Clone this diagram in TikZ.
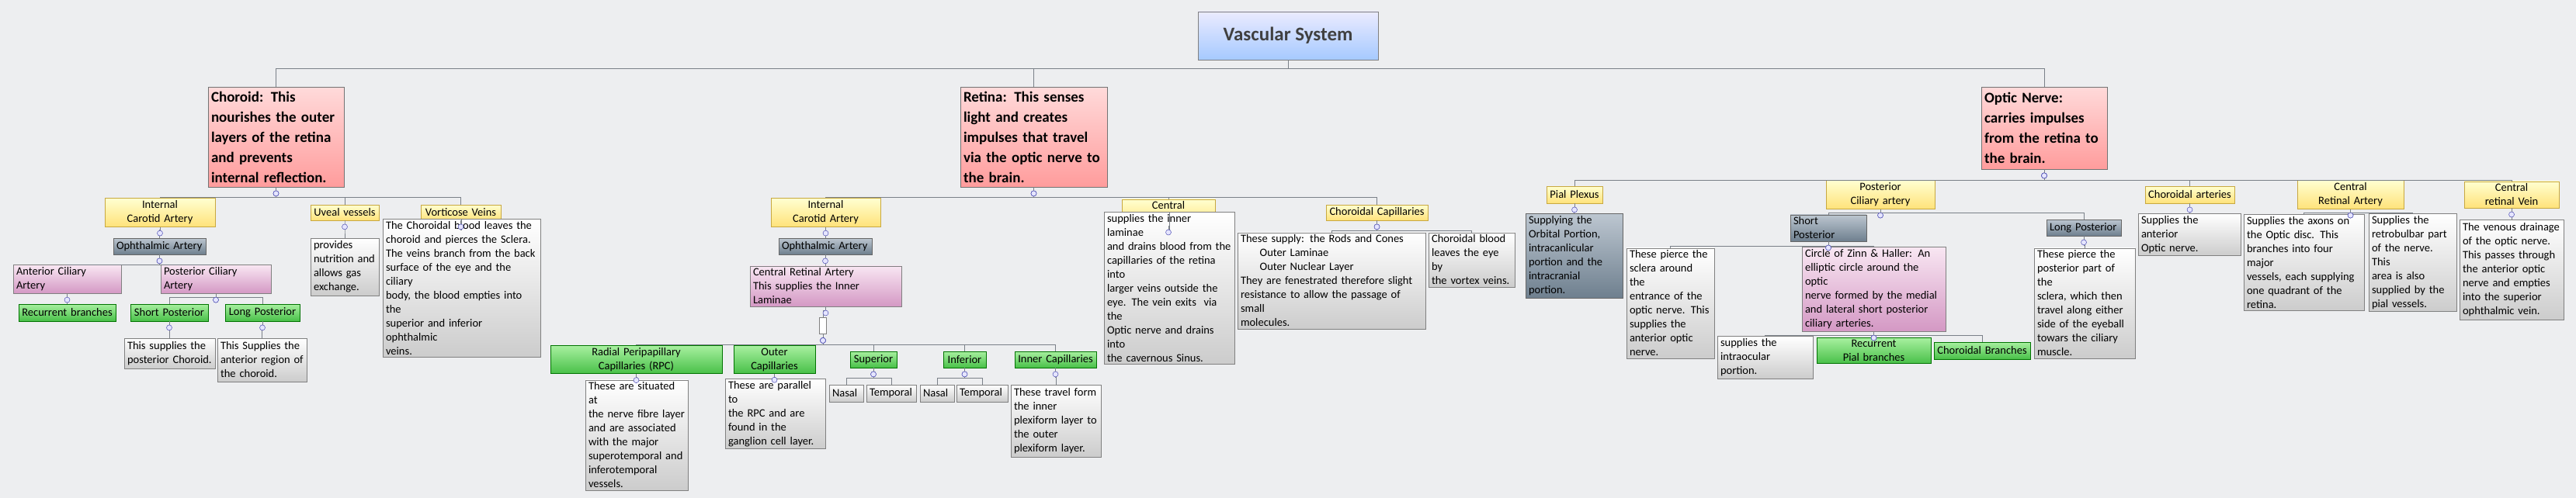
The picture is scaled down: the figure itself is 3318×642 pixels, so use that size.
\documentclass[tikz,border=0pt]{standalone}
\usepackage{fontspec}
\setmainfont{Carlito}
\hyphenpenalty=10000\relax
\exhyphenpenalty=10000\relax
\definecolor{bg}{HTML}{EDEEF0}
\definecolor{ln}{HTML}{7A8088}
\definecolor{slA}{HTML}{BCC6D0}
\definecolor{slB}{HTML}{6E7F8E}
\definecolor{pkA}{HTML}{F8E6F2}
\definecolor{pkB}{HTML}{D498C4}
\definecolor{ywA}{HTML}{FFFFD0}
\definecolor{ywB}{HTML}{FFE27A}
\definecolor{ywD}{HTML}{C8A840}
\definecolor{gnA}{HTML}{A8F0A0}
\definecolor{gnB}{HTML}{48C048}
\definecolor{rdA}{HTML}{FFDADA}
\definecolor{rdB}{HTML}{FF9C9C}
\tikzset{
 every node/.style={inner sep=3pt,font=\fontsize{14.5}{18}\selectfont},
 gen/.style={draw=ln!80,line width=0.8pt},
 yel/.style={gen,draw=ywD,top color=ywA,bottom color=ywB,align=center},
 grn/.style={gen,draw=green!45!black,top color=gnA,bottom color=gnB,align=center},
 gry/.style={gen,draw=gray,top color=white,bottom color=gray!40,align=left},
 slt/.style={gen,draw=gray!80!black,top color=slA,bottom color=slB,align=left},
 pnk/.style={gen,draw=gray,top color=pkA,bottom color=pkB,align=left},
 red/.style={gen,draw=gray!90!black,top color=rdA,bottom color=rdB,align=left,font=\fontsize{19}{26}\selectfont\bfseries},
 wht/.style={gen,draw=gray,fill=white},
}
\newcommand{\myconn}[3]{\draw[ln,line width=0.7pt] (#1.south) -- (#1.south |- 0,#2) -| (#3.north);
 \filldraw[draw=blue!40!gray,fill=blue!10,line width=0.5pt] ([yshift=-8pt]#1.south) circle (3.5pt);}
\newcommand{\bt}[8][]{\node[#2,#1,minimum width=#5pt-#3pt,minimum height=#6pt-#4pt,text width=#5pt-#3pt-8pt] (#7) at ({(#3+#5)/2},{(#4+#6)/2}) {#8};}
\begin{document}
\begin{tikzpicture}[x=1pt,y=-1pt]
\fill[bg] (0,0) rectangle (3318,642);
\useasboundingbox (0,0) rectangle (3318,642);
\node[gen,draw=gray,top color=blue!8,bottom color=cyan!40!blue!35,minimum width=232pt,minimum height=62pt,font=\fontsize{25}{30}\selectfont\bfseries,text=black!75] (title) at (1659,46) {Vascular System};
\bt{red}{268}{112}{443}{241}{chor}{Choroid: This\\nourishes the outer\\layers of the retina\\and prevents\\internal reflection.}
\bt{red}{1237}{112}{1426}{241}{ret}{Retina: This senses\\light and creates\\impulses that travel\\via the optic nerve to\\the brain.}
\bt{red}{2552}{112}{2714}{218}{opt}{Optic Nerve:\\carries impulses\\from the retina to\\the brain.}
% choroid
\bt{yel}{135}{264}{277}{284}{ica1}{Internal Carotid Artery}
\bt{yel}{400}{264}{488}{284}{uv}{Uveal vessels}
\bt{yel}{542}{264}{645}{284}{vv}{Vorticose Veins}
\bt{slt}{146}{307}{265}{328}{oph1}{Ophthalmic Artery}
\bt{pnk}{17}{350}{156}{370}{aca}{Anterior Ciliary Artery}
\bt{pnk}{207}{350}{349}{370}{pca}{Posterior Ciliary Artery}
\bt{grn}{24}{392}{149}{414}{rec}{Recurrent branches}
\bt{grn}{168}{392}{268}{414}{sp1}{Short Posterior}
\bt{grn}{290}{392}{386}{414}{lp1}{Long Posterior}
\bt{gry}{160}{436}{277}{475}{sp1t}{This supplies the\\posterior Choroid.}
\bt{gry}{280}{436}{395}{492}{lp1t}{This Supplies the\\anterior region of\\the choroid.}
\bt{gry}{400}{307}{488}{381}{uvt}{provides\\nutrition and\\allows gas\\exchange.}
\bt{gry}{493}{307}{696}{436}{vvt}{The Choroidal blood leaves the\\choroid and pierces the Sclera.\\The veins branch from the back\\surface of the eye and the ciliary\\body, the blood empties into the\\superior and inferior ophthalmic\\veins.}
% retina
\bt{yel}{993}{264}{1134}{284}{ica2}{Internal Carotid Artery}
\bt{yel}{1445}{264}{1565}{284}{crv}{Central retinal vein}
\bt{yel}{1708}{264}{1839}{284}{chc}{Choroidal Capillaries}
\bt{slt}{1003}{307}{1123}{328}{oph2}{Ophthalmic Artery}
\bt{pnk}{966}{350}{1161}{388}{cra}{Central Retinal Artery\\This supplies the Inner Laminae}
\node[wht,minimum width=9pt,minimum height=21pt,inner sep=0pt] (wb) at (1060,420) {};
\bt{grn}{709}{453}{930}{474}{rpc}{Radial Peripapillary Capillaries (RPC)}
\bt{grn}{945}{453}{1050}{474}{outc}{Outer Capillaries}
\bt{grn}{1095}{453}{1155}{474}{sup}{Superior}
\bt{grn}{1215}{453}{1270}{474}{inf}{Inferior}
\bt{grn}{1307}{453}{1412}{474}{inc}{Inner Capillaries}
\bt{gry}{754}{496}{886}{626}{rpct}{These are situated at\\the nerve fibre layer\\and are associated\\with the major\\superotemporal and\\inferotemporal\\vessels.}
\bt{gry}{934}{496}{1063}{571}{outt}{These are parallel to\\the RPC and are\\found in the\\ganglion cell layer.}
\bt{gry}{1068}{496}{1112}{518}{n1}{Nasal}
\bt{gry}{1116}{496}{1180}{518}{t1}{Temporal}
\bt{gry}{1185}{496}{1229}{518}{n2}{Nasal}
\bt{gry}{1232}{496}{1298}{518}{t2}{Temporal}
\bt{gry}{1302}{496}{1418}{589}{inct}{These travel form\\the inner\\plexiform layer to\\the outer\\plexiform layer.}
\bt{gry}{1422}{307}{1590}{436}{crvt}{supplies the inner laminae\\and drains blood from the\\capillaries of the retina into\\larger veins outside the\\eye. The vein exits ~via the\\Optic nerve and drains into\\the cavernous Sinus.}
\bt{gry}{1594}{307}{1836}{417}{chct}{These supply: the Rods and Cones\\\hspace*{1.7em}Outer Laminae\\\hspace*{1.7em}Outer Nuclear Layer\\They are fenestrated therefore slight\\resistance to allow the passage of small\\ molecules.}
\bt{gry}{1840}{307}{1951}{363}{chct2}{Choroidal blood\\leaves the eye by\\the vortex veins.}
% optic nerve
\bt{yel}{1992}{240}{2064}{262}{pial}{Pial Plexus}
\bt{yel}{2352}{240}{2492}{262}{pca3}{Posterior Ciliary artery}
\bt{yel}{2763}{240}{2878}{262}{choa}{Choroidal arteries}
\bt{yel}{2959}{240}{3096}{262}{cra3}{Central Retinal Artery}
\bt{yel}{3174}{240}{3296}{262}{crv3}{Central retinal Vein}
\bt{slt}{1965}{283}{2090}{377}{pialt}{Supplying the\\Orbital Portion,\\intracanlicular\\portion and the\\intracranial portion.}
\bt{slt}{2306}{283}{2404}{305}{sp3}{Short Posterior}
\bt{slt}{2636}{283}{2732}{304}{lp3}{Long Posterior}
\bt{gry}{2095}{326}{2208}{456}{sclt}{These pierce the\\sclera around the\\entrance of the\\optic nerve. This\\supplies the\\anterior optic\\nerve.}
\bt{pnk}{2321}{326}{2506}{420}{zinn}{Circle of Zinn \& Haller: An\\elliptic circle around the optic\\nerve formed by the medial\\and lateral short posterior\\ciliary arteries.}
\bt{gry}{2212}{441}{2335}{481}{intra}{supplies the\\intraocular portion.}
\bt{grn}{2340}{441}{2487}{463}{recp}{Recurrent Pial branches}
\bt{grn}{2491}{441}{2615}{463}{chb}{Choroidal Branches}
\bt{gry}{2620}{326}{2750}{456}{lpt}{These pierce the\\posterior part of the\\sclera, which then\\travel along either\\side of the eyeball\\towars the ciliary\\muscle.}
\bt{gry}{2754}{283}{2886}{322}{choat}{Supplies the anterior\\Optic nerve.}
\bt{gry}{2890}{283}{3045}{394}{c1}{Supplies the axons on\\the Optic disc. This\\branches into four major\\vessels, each supplying\\one quadrant of the\\retina.}
\bt{gry}{3051}{283}{3164}{394}{c2}{Supplies the\\retrobulbar part\\of the nerve. This\\area is also\\supplied by the\\pial vessels.}
\bt{gry}{3168}{283}{3302}{412}{crvt3}{The venous drainage\\of the optic nerve.\\This passes through\\the anterior optic\\nerve and empties\\into the superior\\ophthalmic vein.}
% connectors
\foreach \c in {chor,ret,opt} {\draw[ln,line width=0.7pt] (title.south) -- (title.south |- 0,88) -| (\c.north);}
\foreach \c in {ica1,uv,vv} {\myconn{chor}{254}{\c}}
\myconn{ica1}{296}{oph1}
\foreach \c in {aca,pca} {\myconn{oph1}{341}{\c}}
\myconn{aca}{383}{rec}
\foreach \c in {sp1,lp1} {\myconn{pca}{383}{\c}}
\myconn{sp1}{425}{sp1t}
\myconn{lp1}{425}{lp1t}
\myconn{uv}{296}{uvt}
\myconn{vv}{296}{vvt}
\foreach \c in {ica2,crv,chc} {\myconn{ret}{254}{\c}}
\myconn{ica2}{296}{oph2}
\myconn{oph2}{340}{cra}
\myconn{cra}{400}{wb}
\foreach \c in {rpc,outc,sup,inf,inc} {\myconn{wb}{444}{\c}}
\myconn{rpc}{486}{rpct}
\myconn{outc}{486}{outt}
\myconn{inc}{486}{inct}
\foreach \c in {n1,t1} {\myconn{sup}{487}{\c}}
\foreach \c in {n2,t2} {\myconn{inf}{487}{\c}}
\myconn{crv}{296}{crvt}
\foreach \c in {chct,chct2} {\myconn{chc}{297}{\c}}
\foreach \c in {pial,pca3,choa,cra3,crv3} {\myconn{opt}{232}{\c}}
\myconn{pial}{273}{pialt}
\foreach \c in {sp3,lp3} {\myconn{pca3}{274}{\c}}
\foreach \c in {sclt,zinn} {\myconn{sp3}{317}{\c}}
\myconn{lp3}{316}{lpt}
\foreach \c in {intra,recp,chb} {\myconn{zinn}{432}{\c}}
\myconn{choa}{273}{choat}
\foreach \c in {c1,c2} {\myconn{cra3}{274}{\c}}
\myconn{crv3}{273}{crvt3}
\end{tikzpicture}
\end{document}
